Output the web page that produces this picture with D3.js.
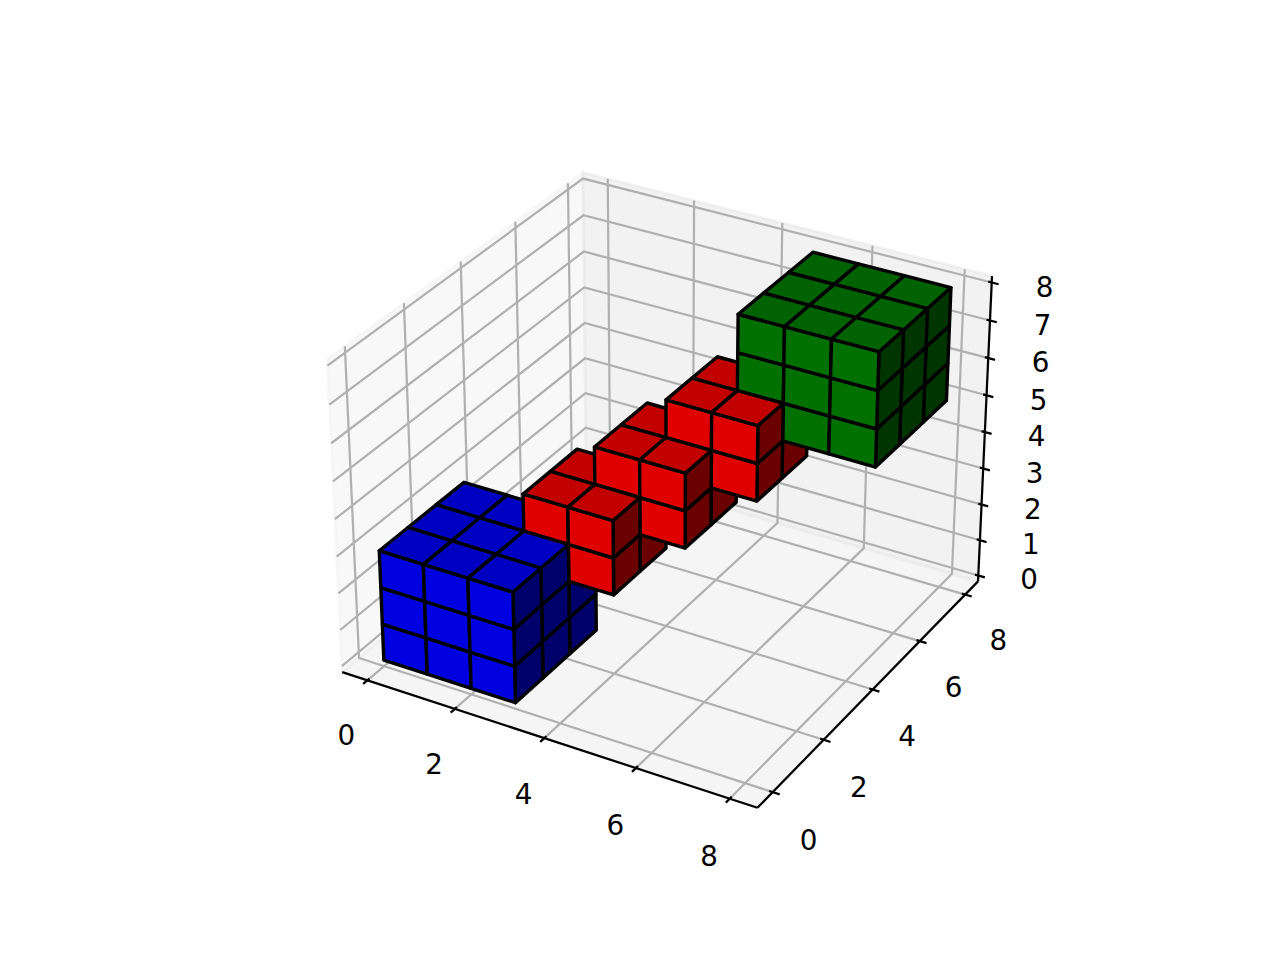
<!DOCTYPE html>
<html>
<head>
<meta charset="utf-8">
<script src="https://cdn.jsdelivr.net/npm/d3@7"></script>
<style>
  body { margin: 0; background: #fff; }
  svg { display: block; }
  text { font-family: "DejaVu Sans", sans-serif; font-size: 27.78px; fill: #000; }
</style>
</head>
<body>
<script>
// tick values on the three axes
var xTicks = [0, 2, 4, 6, 8];
var yTicks = [0, 2, 4, 6, 8];
var zTicks = [0, 1, 2, 3, 4, 5, 6, 7, 8];

// filled voxels, lower corner [x, y, z]
var blueVoxels = [
  [0,0,0],[0,0,1],[0,0,2],[0,1,0],[0,1,1],[0,1,2],[0,2,0],[0,2,1],[0,2,2],
  [1,0,0],[1,0,1],[1,0,2],[1,1,0],[1,1,1],[1,1,2],[1,2,0],[1,2,1],[1,2,2],
  [2,0,0],[2,0,1],[2,0,2],[2,1,0],[2,1,1],[2,1,2],[2,2,0],[2,2,1],[2,2,2]
];
var redVoxels = [
  [2,2,3],[2,3,2],[3,2,2],
  [2,3,3],[3,2,3],[3,3,2],[3,3,3],[3,3,4],[3,4,3],[4,3,3],
  [3,4,4],[4,3,4],[4,4,3],[4,4,4],[4,4,5],[4,5,4],[5,4,4],
  [4,5,5],[5,4,5],[5,5,4]
];
var greenVoxels = [
  [5,5,5],[5,5,6],[5,5,7],[5,6,5],[5,6,6],[5,6,7],[5,7,5],[5,7,6],[5,7,7],
  [6,5,5],[6,5,6],[6,5,7],[6,6,5],[6,6,6],[6,6,7],[6,7,5],[6,7,6],[6,7,7],
  [7,5,5],[7,5,6],[7,5,7],[7,6,5],[7,6,6],[7,6,7],[7,7,5],[7,7,6],[7,7,7]
];

var voxelGroups = [
  {rgb: [0, 0, 255], cells: blueVoxels},
  {rgb: [255, 0, 0], cells: redVoxels},
  {rgb: [0, 128, 0], cells: greenVoxels}
];

// axis limits (x, y carry the default 5% margin)
var xlim = [-0.4, 8.4], ylim = [-0.4, 8.4], zlim = [0, 8];

var W = 1280, H = 960;
var fontSize = 27.78;

// ---- little vector helpers
function dot(a, b) { return a[0]*b[0] + a[1]*b[1] + a[2]*b[2]; }
function cross(a, b) {
  return [a[1]*b[2] - a[2]*b[1], a[2]*b[0] - a[0]*b[2], a[0]*b[1] - a[1]*b[0]];
}
function unit(a) { var n = Math.hypot(a[0], a[1], a[2]); return a.map(function(c){ return c / n; }); }

// ---- camera, like the default 3d view (elev 30, azim -60)
var elev = 30 * Math.PI / 180, azim = -60 * Math.PI / 180, dist = 10;
var boxNorm = Math.hypot(4, 4, 3);
var aspect = [4, 4, 3].map(function(a){ return a * 1.8294640721620434 / boxNorm; });

var wx = d3.scaleLinear().domain(xlim).range([0, aspect[0]]);
var wy = d3.scaleLinear().domain(ylim).range([0, aspect[1]]);
var wz = d3.scaleLinear().domain(zlim).range([0, aspect[2]]);

var center = aspect.map(function(a){ return a / 2; });
var look = [Math.cos(elev)*Math.cos(azim), Math.cos(elev)*Math.sin(azim), Math.sin(elev)];
var eye = center.map(function(c, i){ return c + dist * look[i]; });
var camU = unit(cross([0, 0, 1], look));
var camV = cross(look, camU);

// axes square inside the default subplot box
var side = Math.min(0.775 * W, 0.77 * H);
var axLeft = 0.125 * W + (0.775 * W - side) / 2;
var axTop = (1 - 0.88) * H + (0.77 * H - side) / 2;
var sx = d3.scaleLinear().domain([-0.095, 0.09]).range([axLeft, axLeft + side]);
var sy = d3.scaleLinear().domain([-0.095, 0.09]).range([axTop + side, axTop]);

function toWorld(p) { return [wx(p[0]), wy(p[1]), wz(p[2])]; }
function project(p) {
  var q = toWorld(p);
  var d = [q[0] - eye[0], q[1] - eye[1], q[2] - eye[2]];
  var zv = dot(look, d);
  return [sx(dot(camU, d) / -zv), sy(dot(camV, d) / -zv), zv];
}

var line = d3.line().x(function(p){ return p[0]; }).y(function(p){ return p[1]; });
function path3d(pts, closed) {
  return line(pts.map(project)) + (closed ? 'Z' : '');
}

// pane box: limits widened by 1/48 of the range
var mins = [xlim[0], ylim[0], zlim[0]], maxs = [xlim[1], ylim[1], zlim[1]];
var deltas = mins.map(function(m, i){ return (maxs[i] - m) / 12; });
var pMin = mins.map(function(m, i){ return m - deltas[i] / 4; });
var pMax = maxs.map(function(m, i){ return m + deltas[i] / 4; });

var svg = d3.select('body').append('svg')
  .attr('width', W)
  .attr('height', H);

svg.append('rect').attr('width', W).attr('height', H).attr('fill', '#fff');

// ---- panes
var panes = [
  {color: 'rgba(242,242,242,0.5)', pts: [[pMin[0],pMin[1],pMin[2]],[pMin[0],pMax[1],pMin[2]],[pMin[0],pMax[1],pMax[2]],[pMin[0],pMin[1],pMax[2]]]},
  {color: 'rgba(230,230,230,0.5)', pts: [[pMin[0],pMax[1],pMin[2]],[pMax[0],pMax[1],pMin[2]],[pMax[0],pMax[1],pMax[2]],[pMin[0],pMax[1],pMax[2]]]},
  {color: 'rgba(236,236,236,0.5)', pts: [[pMin[0],pMin[1],pMin[2]],[pMax[0],pMin[1],pMin[2]],[pMax[0],pMax[1],pMin[2]],[pMin[0],pMax[1],pMin[2]]]}
];
svg.append('g').selectAll('path')
  .data(panes)
  .enter().append('path')
  .attr('d', function(p){ return path3d(p.pts, true); })
  .attr('fill', function(p){ return p.color; })
  .attr('stroke', function(p){ return p.color; })
  .attr('stroke-width', 2.78);

// ---- grid lines
var gridLines = [];
xTicks.forEach(function(t){
  gridLines.push([[t, pMin[1], pMin[2]], [t, pMax[1], pMin[2]], [t, pMax[1], pMax[2]]]);
});
yTicks.forEach(function(t){
  gridLines.push([[pMin[0], t, pMax[2]], [pMin[0], t, pMin[2]], [pMax[0], t, pMin[2]]]);
});
zTicks.forEach(function(t){
  gridLines.push([[pMax[0], pMax[1], t], [pMin[0], pMax[1], t], [pMin[0], pMin[1], t]]);
});
svg.append('g').selectAll('path')
  .data(gridLines)
  .enter().append('path')
  .attr('d', function(g){ return path3d(g, false); })
  .attr('fill', 'none')
  .attr('stroke', '#b0b0b0')
  .attr('stroke-width', 2.22);

// ---- axis lines and ticks
var axisLines = [
  [[pMin[0], pMin[1], pMin[2]], [pMax[0], pMin[1], pMin[2]]],
  [[pMax[0], pMin[1], pMin[2]], [pMax[0], pMax[1], pMin[2]]],
  [[pMax[0], pMax[1], pMin[2]], [pMax[0], pMax[1], pMax[2]]]
];
var tickMarks = [];
xTicks.forEach(function(t){
  tickMarks.push([[t, pMin[1] + 0.1*deltas[1], pMin[2]], [t, pMin[1] - 0.2*deltas[1], pMin[2]]]);
});
yTicks.forEach(function(t){
  tickMarks.push([[pMax[0] - 0.1*deltas[0], t, pMin[2]], [pMax[0] + 0.2*deltas[0], t, pMin[2]]]);
});
zTicks.forEach(function(t){
  tickMarks.push([[pMax[0] - 0.1*deltas[0], pMax[1], t], [pMax[0] + 0.2*deltas[0], pMax[1], t]]);
});
svg.append('g').selectAll('path')
  .data(axisLines.concat(tickMarks))
  .enter().append('path')
  .attr('d', function(l){ return path3d(l, false); })
  .attr('fill', 'none')
  .attr('stroke', '#000')
  .attr('stroke-width', 2.22);

// ---- tick labels
var labelPad = (3.5 + 8) * 48 / (2 * 72 * side / 200);
var lab = deltas.map(function(d){ return d * labelPad; });
var tickLabels = [];
xTicks.forEach(function(t){ tickLabels.push({text: t, p: [t, pMin[1] - lab[1], pMin[2] - lab[2]]}); });
yTicks.forEach(function(t){ tickLabels.push({text: t, p: [pMax[0] + lab[0], t, pMin[2] - lab[2]]}); });
zTicks.forEach(function(t){ tickLabels.push({text: t, p: [pMax[0] + lab[0], pMax[1] + lab[1], t]}); });
svg.append('g').selectAll('text')
  .data(tickLabels)
  .enter().append('text')
  .attr('x', function(d){ return project(d.p)[0]; })
  .attr('y', function(d){ return project(d.p)[1] + 0.76 * fontSize; })
  .attr('text-anchor', 'middle')
  .text(function(d){ return d.text; });

// ---- voxels
var filled = new Set();
var cells = [];
voxelGroups.forEach(function(g){
  g.cells.forEach(function(c){
    filled.add(c.join(','));
    cells.push({c: c, rgb: g.rgb});
  });
});

var light = [-0.6667, -0.6667, 0.3333];
light = unit(light);
var dirs = [[-1,0,0],[1,0,0],[0,-1,0],[0,1,0],[0,0,-1],[0,0,1]];

function shade(rgb, n) {
  var s = dot(n, light);
  var f = 0.3 + 0.7 * (s + 1) / 2;
  return d3.rgb(rgb[0]*f, rgb[1]*f, rgb[2]*f).toString();
}

cells.forEach(function(cell){
  cell.depth = project([cell.c[0] + 0.5, cell.c[1] + 0.5, cell.c[2] + 0.5])[2];
});
cells.sort(function(a, b){ return a.depth - b.depth; });

var faces = [];
cells.forEach(function(cell){
  var c = cell.c;
  dirs.forEach(function(n){
    var nb = [c[0] + n[0], c[1] + n[1], c[2] + n[2]];
    if (filled.has(nb.join(','))) return;
    var a = n[0] ? 0 : (n[1] ? 1 : 2);
    var b = (a + 1) % 3, e = (a + 2) % 3;
    var fixed = c[a] + (n[a] > 0 ? 1 : 0);
    var corners = [[0,0],[1,0],[1,1],[0,1]].map(function(k){
      var p = [0, 0, 0];
      p[a] = fixed;
      p[b] = c[b] + k[0];
      p[e] = c[e] + k[1];
      return p;
    });
    // skip faces turned away from the eye
    var mid = [0, 0, 0];
    mid[a] = fixed; mid[b] = c[b] + 0.5; mid[e] = c[e] + 0.5;
    var mw = toWorld(mid);
    var toEye = [eye[0] - mw[0], eye[1] - mw[1], eye[2] - mw[2]];
    if (dot(n, toEye) <= 0) return;
    faces.push({pts: corners, fill: shade(cell.rgb, n)});
  });
});

svg.append('g').selectAll('path')
  .data(faces)
  .enter().append('path')
  .attr('d', function(f){ return path3d(f.pts, true); })
  .attr('fill', function(f){ return f.fill; })
  .attr('stroke', '#000')
  .attr('stroke-width', 3.4)
  .attr('stroke-linejoin', 'round');
</script>
</body>
</html>
